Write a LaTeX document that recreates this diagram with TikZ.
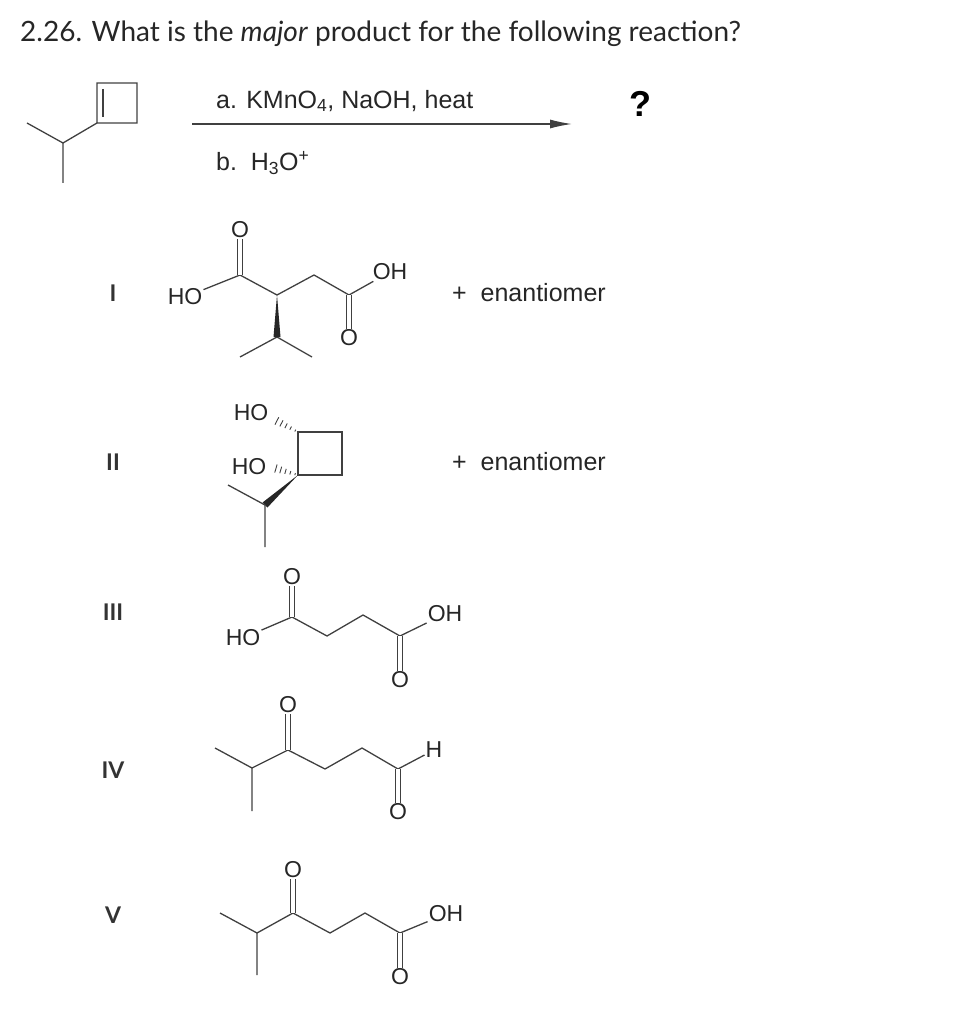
\documentclass[tikz,border=0pt]{standalone}
\usepackage{fontspec}
\setmainfont{Lato}
\newfontfamily\arialf{Liberation Sans}
\usetikzlibrary{calc,arrows.meta}
\begin{document}
\begin{tikzpicture}[x=1pt,y=-1pt,
  bond/.style={line width=1.3pt,draw=black!75},
  dbl/.style={line width=1.1pt,draw=black!75,double,double distance=3.4pt},
  atom/.style={inner sep=1pt,font=\arialf\fontsize{23}{23}\selectfont,text=black!85},
  pt/.style={inner sep=0pt,minimum size=0pt},
  lbl/.style={font=\bfseries\fontsize{23}{23}\selectfont,text=black!80},
  txt/.style={font=\arialf\fontsize{25}{25}\selectfont,text=black!85,inner sep=0pt}]
\useasboundingbox (0,0) rectangle (953,1024);
\node[anchor=base west,inner sep=0pt,font=\fontsize{28}{28}\selectfont,text=black!85] (title) at (20,42) {2.26. What is the \textit{major} product for the following reaction?};
% starting material
\coordinate (s1) at (97,83); \coordinate (s2) at (137,83); \coordinate (s3) at (137,123); \coordinate (s4) at (97,123);
\coordinate (s5) at (63,143); \coordinate (s6) at (27,123); \coordinate (s7) at (63,183);
\draw[bond] (s1)--(s2)--(s3)--(s4)--cycle (s4)--(s5)--(s6) (s5)--(s7);
\draw[bond] ($(s1)+(6,6)$)--($(s4)+(6,-6)$);
\coordinate (ar1) at (192,124); \coordinate (ar2) at (572,124);
\draw[bond,-{Latex[length=22pt,width=9pt]}] (ar1)--(ar2);
\node[txt,anchor=west] (ra) at (216,101) {a. KMnO\textsubscript{4}, NaOH, heat};
\node[txt,anchor=west] (rb) at (216,163) {b.\ \ H\textsubscript{3}O\textsuperscript{+}};
\node[font=\arialf\bfseries\fontsize{36}{36}\selectfont] (q) at (640,104) {?};
% I
\node[lbl] (L1) at (113,293) {I};
\node[atom] (h1) at (185,297) {HO};
\coordinate (a1) at (240,275); \node[atom] (ao1) at (240,230) {O};
\coordinate (a2) at (277,295); \coordinate (a3) at (314,275);
\coordinate (a4) at (349,295); \node[atom] (ah1) at (390,272) {OH};
\node[atom] (ao2) at (349,338) {O};
\coordinate (a5) at (277,337); \coordinate (a6) at (240,357); \coordinate (a7) at (312,357);
\draw[bond] (h1)--(a1)--(a2)--(a3)--(a4)--(ah1) (a5)--(a6) (a5)--(a7);
\draw[dbl] (a1)--(ao1); \draw[dbl] (a4)--(ao2);
\fill[black!85] (a2)--($(a5)!3.5pt!90:(a2)$)--($(a5)!3.5pt!-90:(a2)$)--cycle;
\node[txt,anchor=west] (e1) at (452,293) {+\ \ enantiomer};
% II
\node[lbl] (L2) at (113,462) {II};
\coordinate (b1) at (298,432); \coordinate (b2) at (342,432); \coordinate (b3) at (342,475); \coordinate (b4) at (298,475);
\draw[bond] (b1)--(b2)--(b3)--(b4)--cycle;
\node[atom] (bh1) at (251,413) {HO}; \node[atom] (bh2) at (249,467) {HO};
\coordinate (bt1) at (275,420); \coordinate (bt2) at (274,468);
\foreach \s/\e in {b1/bt1,b4/bt2}{
  \foreach \t/\w in {0.12/1,0.32/1.8,0.52/2.6,0.72/3.4,0.92/4.2}{
    \draw[line width=0.9pt,black!75] ($($(\s)!\t!(\e)$)!\w pt!90:(\e)$)--($($(\s)!\t!(\e)$)!\w pt!-90:(\e)$);
  }}
\coordinate (b5) at (265,505); \coordinate (b6) at (228,485); \coordinate (b7) at (265,547);
\fill[black!85] (b4)--($(b5)!3.5pt!90:(b4)$)--($(b5)!3.5pt!-90:(b4)$)--cycle;
\draw[bond] (b6)--(b5)--(b7);
\node[txt,anchor=west] (e2) at (452,462) {+\ \ enantiomer};
% III
\node[lbl] (L3) at (113,612) {III};
\node[atom] (ch1) at (243,638) {HO};
\coordinate (c1) at (292,617); \node[atom] (co1) at (292,577) {O};
\coordinate (c2) at (327,636); \coordinate (c3) at (363,615); \coordinate (c4) at (400,636);
\node[atom] (ch2) at (445,614) {OH}; \node[atom] (co2) at (400,680) {O};
\draw[bond] (ch1)--(c1)--(c2)--(c3)--(c4)--(ch2);
\draw[dbl] (c1)--(co1); \draw[dbl] (c4)--(co2);
% IV
\node[lbl] (L4) at (113,770) {IV};
\node[atom] (do1) at (288,705) {O};
\coordinate (d1) at (288,750); \coordinate (d2) at (252,768); \coordinate (d3) at (215,748); \coordinate (d4) at (252,811);
\coordinate (d5) at (325,769); \coordinate (d6) at (362,748); \coordinate (d7) at (398,769);
\node[atom] (dh) at (434,750) {H}; \node[atom] (do2) at (398,812) {O};
\draw[bond] (d3)--(d2)--(d1)--(d5)--(d6)--(d7)--(dh) (d2)--(d4);
\draw[dbl] (d1)--(do1); \draw[dbl] (d7)--(do2);
% V
\node[lbl] (L5) at (113,915) {V};
\node[atom] (fo1) at (293,870) {O};
\coordinate (f1) at (293,913); \coordinate (f2) at (257,933); \coordinate (f3) at (220,913); \coordinate (f4) at (257,975);
\coordinate (f5) at (330,933); \coordinate (f6) at (365,913); \coordinate (f7) at (400,933);
\node[atom] (fh) at (446,914) {OH}; \node[atom] (fo2) at (400,977) {O};
\draw[bond] (f3)--(f2)--(f1)--(f5)--(f6)--(f7)--(fh) (f2)--(f4);
\draw[dbl] (f1)--(fo1); \draw[dbl] (f7)--(fo2);
\end{tikzpicture}
\end{document}
